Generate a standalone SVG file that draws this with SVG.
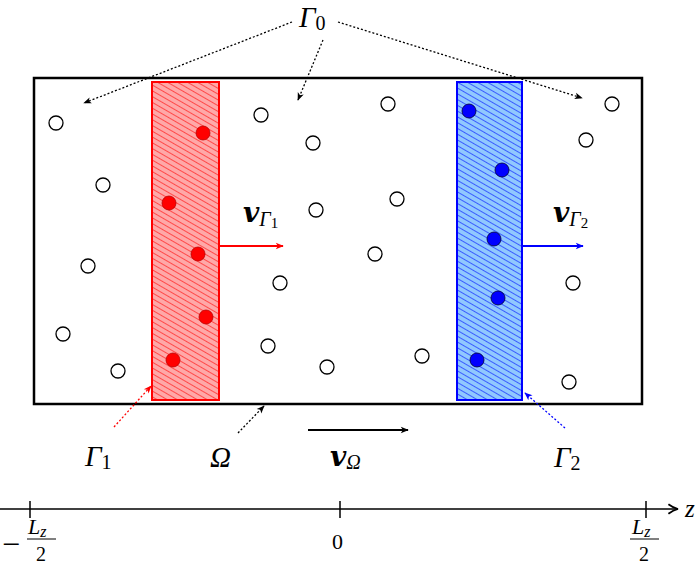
<svg xmlns="http://www.w3.org/2000/svg" width="700" height="565" viewBox="0 0 700 565">
<defs>
<pattern id="hatchR" patternUnits="userSpaceOnUse" width="5" height="5" patternTransform="rotate(30)">
<rect width="5" height="5" fill="#ffa8a8"/>
<line x1="0" y1="2.5" x2="5" y2="2.5" stroke="#ff4040" stroke-width="0.9"/>
</pattern>
<pattern id="hatchB" patternUnits="userSpaceOnUse" width="5" height="5" patternTransform="rotate(30)">
<rect width="5" height="5" fill="#90c8ff"/>
<line x1="0" y1="2.5" x2="5" y2="2.5" stroke="#3050ff" stroke-width="0.9"/>
</pattern>
<marker id="ak" viewBox="0 0 10 10" refX="9" refY="5" markerWidth="10" markerHeight="8" markerUnits="userSpaceOnUse" orient="auto"><path d="M0,1 L10,5 L0,9 L2.5,5 Z" fill="#000"/></marker>
<marker id="ar" viewBox="0 0 10 10" refX="9" refY="5" markerWidth="10" markerHeight="8" markerUnits="userSpaceOnUse" orient="auto"><path d="M0,1 L10,5 L0,9 L2.5,5 Z" fill="#f00"/></marker>
<marker id="ab" viewBox="0 0 10 10" refX="9" refY="5" markerWidth="10" markerHeight="8" markerUnits="userSpaceOnUse" orient="auto"><path d="M0,1 L10,5 L0,9 L2.5,5 Z" fill="#00f"/></marker>
<marker id="ax" viewBox="0 0 10 10" refX="9" refY="5" markerWidth="12" markerHeight="12" markerUnits="userSpaceOnUse" orient="auto"><path d="M1,1 Q5,4 9,5 Q5,6 1,9" fill="none" stroke="#000" stroke-width="1.5"/></marker>
</defs>
<style>
.box{fill:none;stroke:#000;stroke-width:2.5}
.op{fill:#fff;stroke:#000;stroke-width:1.3}
.rd{fill:#f00;stroke:#b00;stroke-width:0.8}
.bl{fill:#00f;stroke:#003;stroke-width:0.8}
.dk{stroke:#000;stroke-width:1.3;stroke-dasharray:2 2;fill:none}
.dr{stroke:#f00;stroke-width:1.3;stroke-dasharray:2 2;fill:none}
.db{stroke:#00f;stroke-width:1.3;stroke-dasharray:2 2;fill:none}
.m{font-family:"Liberation Serif","DejaVu Serif",serif;font-style:italic;font-weight:normal;fill:#000}
.n{font-family:"Liberation Serif","DejaVu Serif",serif;font-style:normal;font-weight:normal;fill:#000}
.v{font-family:"DejaVu Serif","Liberation Serif",serif;font-style:italic;font-weight:bold;fill:#000}
.s{font-family:"Liberation Serif","DejaVu Serif",serif;font-style:italic;font-weight:normal;fill:#000}
</style>
<rect x="0" y="0" width="700" height="565" fill="#fff"/>
<g id="domain">
<rect class="box" x="34" y="78" width="608" height="326"/>
</g>
<g id="gamma1-region">
<rect x="152" y="82" width="67" height="318" fill="url(#hatchR)" stroke="#f00" stroke-width="2"/>
</g>
<g id="gamma2-region">
<rect x="457" y="82" width="65" height="318" fill="url(#hatchB)" stroke="#00f" stroke-width="2"/>
</g>
<g id="particles-open">
<circle class="op" cx="56" cy="123" r="7"/>
<circle class="op" cx="103" cy="185" r="7"/>
<circle class="op" cx="88" cy="266" r="7"/>
<circle class="op" cx="63" cy="334" r="7"/>
<circle class="op" cx="118" cy="371" r="7"/>
<circle class="op" cx="261" cy="115" r="7"/>
<circle class="op" cx="313" cy="143" r="7"/>
<circle class="op" cx="316" cy="210" r="7"/>
<circle class="op" cx="280" cy="283" r="7"/>
<circle class="op" cx="268" cy="346" r="7"/>
<circle class="op" cx="327" cy="367" r="7"/>
<circle class="op" cx="375" cy="254" r="7"/>
<circle class="op" cx="397" cy="199" r="7"/>
<circle class="op" cx="388" cy="104" r="7"/>
<circle class="op" cx="422" cy="356" r="7"/>
<circle class="op" cx="612" cy="104" r="7"/>
<circle class="op" cx="586" cy="140" r="7"/>
<circle class="op" cx="573" cy="283" r="7"/>
<circle class="op" cx="569" cy="382" r="7"/>
</g>
<g id="particles-red">
<circle class="rd" cx="203" cy="133" r="7"/>
<circle class="rd" cx="169" cy="203" r="7"/>
<circle class="rd" cx="198" cy="254" r="7"/>
<circle class="rd" cx="206" cy="317" r="7"/>
<circle class="rd" cx="173" cy="360" r="7"/>
</g>
<g id="particles-blue">
<circle class="bl" cx="469" cy="111" r="7"/>
<circle class="bl" cx="502" cy="170" r="7"/>
<circle class="bl" cx="494" cy="239" r="7"/>
<circle class="bl" cx="498" cy="298" r="7"/>
<circle class="bl" cx="477" cy="360" r="7"/>
</g>
<g id="connectors">
<line class="dk" x1="292" y1="22" x2="84" y2="103" marker-end="url(#ak)"/>
<line class="dk" x1="323" y1="40" x2="298" y2="100" marker-end="url(#ak)"/>
<line class="dk" x1="338" y1="22" x2="582" y2="98" marker-end="url(#ak)"/>
<line x1="219" y1="246" x2="283" y2="246" stroke="#f00" stroke-width="2" marker-end="url(#ar)"/>
<line x1="522" y1="246" x2="583" y2="246" stroke="#00f" stroke-width="2" marker-end="url(#ab)"/>
<line class="dr" x1="114" y1="427" x2="151" y2="386" marker-end="url(#ar)"/>
<line class="dk" x1="238" y1="433" x2="264" y2="406" marker-end="url(#ak)"/>
<line class="db" x1="565" y1="428" x2="525" y2="393" marker-end="url(#ab)"/>
<line x1="308" y1="430" x2="408" y2="430" stroke="#000" stroke-width="2" marker-end="url(#ak)"/>
</g>
<g id="labels">
<text class="m" x="299" y="27" style="font-size:29px">Γ<tspan class="n" dy="3" style="font-size:20px">0</tspan></text>
<text class="v" x="243" y="222" style="font-size:28px">v<tspan class="s" dy="4" style="font-size:20px">Γ</tspan><tspan class="n" dy="2" style="font-size:15px">1</tspan></text>
<text class="v" x="553" y="222" style="font-size:28px">v<tspan class="s" dy="4" style="font-size:20px">Γ</tspan><tspan class="n" dy="2" style="font-size:15px">2</tspan></text>
<text class="m" x="85" y="466" style="font-size:29px">Γ<tspan class="n" dy="3" style="font-size:20px">1</tspan></text>
<text class="m" x="210" y="467" style="font-size:29px">Ω</text>
<text class="v" x="330" y="466" style="font-size:28px">v<tspan class="s" dy="3" style="font-size:20px">Ω</tspan></text>
<text class="m" x="554" y="467" style="font-size:29px">Γ<tspan class="n" dy="3" style="font-size:20px">2</tspan></text>
</g>
<g id="axis">
<line x1="0" y1="509" x2="678" y2="509" stroke="#000" stroke-width="1.5" marker-end="url(#ax)"/>
<line x1="30" y1="501" x2="30" y2="518" stroke="#000" stroke-width="1.5"/>
<line x1="340" y1="501" x2="340" y2="518" stroke="#000" stroke-width="1.5"/>
<line x1="646" y1="501" x2="646" y2="518" stroke="#000" stroke-width="1.5"/>
<text class="m" x="685" y="517" style="font-size:25px">z</text>
<text class="n" x="332" y="549" style="font-size:22px">0</text>
<text class="n" x="2" y="555" style="font-size:32px">−</text>
<text class="s" x="28" y="534" style="font-size:22px">L<tspan dy="3" style="font-size:16px">z</tspan></text>
<line x1="27" y1="539" x2="56" y2="539" stroke="#000" stroke-width="1"/>
<text class="n" x="36" y="561" style="font-size:20px">2</text>
<text class="s" x="632" y="534" style="font-size:22px">L<tspan dy="3" style="font-size:16px">z</tspan></text>
<line x1="630" y1="539" x2="659" y2="539" stroke="#000" stroke-width="1"/>
<text class="n" x="639" y="561" style="font-size:20px">2</text>
</g>
</svg>
